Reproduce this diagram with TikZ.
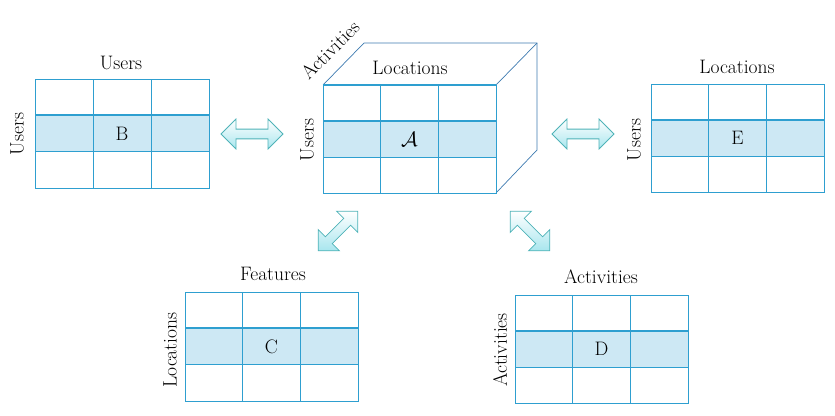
\documentclass[tikz,border=0pt]{standalone}
\usepackage{fontspec}
\usetikzlibrary{shapes.arrows}
\definecolor{gl}{HTML}{2E9FD0}
\definecolor{hl}{HTML}{CDE8F4}
\definecolor{ao}{HTML}{4FB3B8}
\definecolor{af}{HTML}{A8E6EE}
\definecolor{cb}{HTML}{3D7AB0}
\tikzset{
 grid/.style={draw=gl,line width=0.8pt},
 thick/.style={draw=gl,line width=2pt},
 lab/.style={font=\fontsize{19.5}{22}\selectfont,inner sep=1pt},
 fat/.style={shape=double arrow,draw=ao,line width=0.8pt,top color=white,bottom color=af,
   minimum height=62pt,minimum width=30pt,double arrow head extend=5pt,inner sep=2pt,double arrow head indent=0pt}
}
\newcommand{\mygrid}[6]{% x0 y0 w h name label
 \fill[hl] (#1,{#2+#4/3}) rectangle ({#1+#3},{#2+2*#4/3});
 \draw[grid] (#1,#2) rectangle ({#1+#3},{#2+#4});
 \foreach \i in {1,2}{\draw[grid] ({#1+\i*#3/3},#2) -- ({#1+\i*#3/3},{#2+#4});}
 \draw[grid] (#1,{#2+2*#4/3}) -- ({#1+#3},{#2+2*#4/3});
 \draw[thick] (#1,{#2+#4/3}) -- ({#1+#3},{#2+#4/3});
 \node[lab] (#5) at ({#1+#3/2},{#2+#4/2}) {#6};
}
\begin{document}
\begin{tikzpicture}[x=1pt,y=-1pt]
\useasboundingbox (0,0) rectangle (835,415);
% cube back
\draw[draw=cb,line width=0.7pt] (323,85) -- (364,43) -- (537,43) -- (537,150) -- (496,193);
\draw[draw=cb,line width=0.7pt] (496,85) -- (537,43);
\mygrid{35}{79}{174}{109}{B}{B}
\mygrid{323}{85}{173}{108}{A}{$\mathcal{A}$}
\draw[thick] (323,85) -- (496,85);
\mygrid{651}{84}{173}{108}{E}{E}
\mygrid{185}{292}{173}{109}{C}{C}
\mygrid{515}{295}{173}{108}{D}{D}
\node[lab] (t1) at (121,63) {Users};
\node[lab,rotate=90] (t2) at (17,134) {Users};
\node[lab] (t3) at (410,68) {Locations};
\node[lab,rotate=45] (t4) at (330,50) {Activities};
\node[lab,rotate=90] (t5) at (307,140) {Users};
\node[lab] (t6) at (737,67) {Locations};
\node[lab,rotate=90] (t7) at (634,140) {Users};
\node[lab] (t8) at (273,274) {Features};
\node[lab,rotate=90] (t9) at (170,350) {Locations};
\node[lab] (t10) at (601,277) {Activities};
\node[lab,rotate=90] (t11) at (500,350) {Activities};
\node[fat] (a1) at (252,134) {};
\node[fat] (a2) at (583,134) {};
\node[fat,rotate=45,minimum height=56pt] (a3) at (338,231) {};
\node[fat,rotate=-45,minimum height=56pt] (a4) at (530,231) {};
\end{tikzpicture}
\end{document}
